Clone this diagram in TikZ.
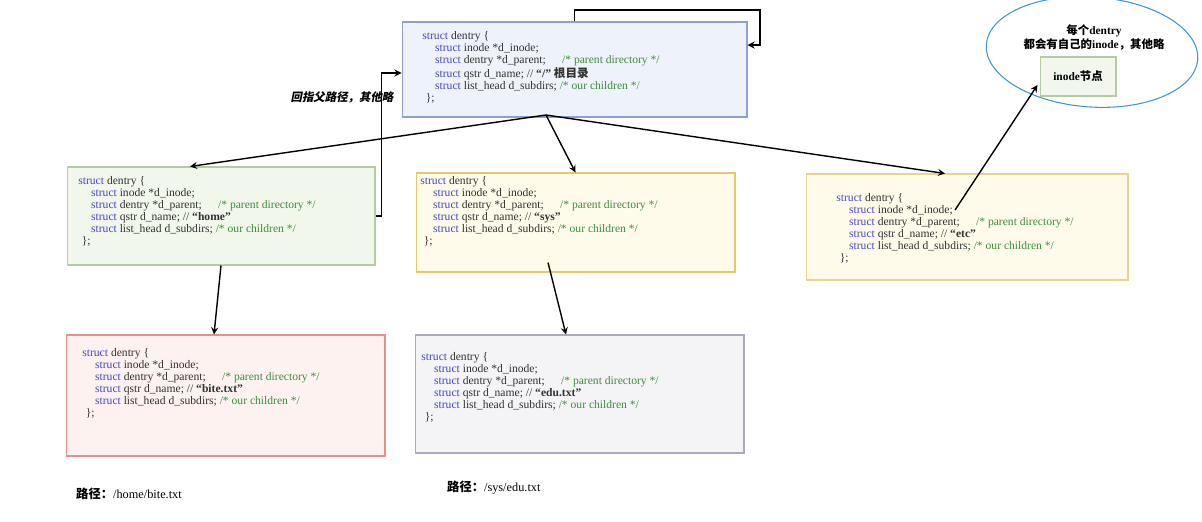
\documentclass[tikz,border=0pt]{standalone}
\usepackage{fontspec}
\usepackage{xcolor}
\usetikzlibrary{shapes,arrows,positioning,calc}
\setmainfont{Liberation Serif}
\newfontfamily\cjk{Noto Sans CJK SC}
\newfontfamily\cjkslant{Noto Sans CJK SC}[FakeSlant=0.2]
\definecolor{kwblue}{RGB}{70,70,200}
\definecolor{cmtgreen}{RGB}{60,140,60}
\definecolor{codegray}{RGB}{50,50,50}
\definecolor{blue1}{RGB}{238,243,251}
\definecolor{blue1line}{RGB}{140,160,210}
\definecolor{green1}{RGB}{242,247,236}
\definecolor{green1line}{RGB}{180,205,160}
\definecolor{yellow1}{RGB}{255,251,235}
\definecolor{yellow1line}{RGB}{232,198,106}
\definecolor{yellow2line}{RGB}{228,214,140}
\definecolor{red1}{RGB}{253,242,240}
\definecolor{red1line}{RGB}{227,146,138}
\definecolor{gray1}{RGB}{244,244,247}
\definecolor{gray1line}{RGB}{170,170,190}
\definecolor{inkblue}{RGB}{60,150,210}
\newcommand{\kw}{\textcolor{kwblue}{struct}}
\newcommand{\cmt}[1]{\textcolor{cmtgreen}{#1}}
\newcommand{\dentrycode}[1]{%
\kw{} dentry \{\\
\hspace*{1.1em}\kw{} inode *d\_inode;\\
\hspace*{1.1em}\kw{} dentry *d\_parent;\hspace{1.4em}\cmt{/* parent directory */}\\
\hspace*{1.1em}\kw{} qstr d\_name; // #1\\
\hspace*{1.1em}\kw{} list\_head d\_subdirs; \cmt{/* our children */}\\
\hspace*{0.3em}\};}

\begin{document}
\begin{tikzpicture}[x=0.02cm, y=-0.02cm, >=stealth,
    dbox/.style={draw, line width=0.6pt},
    code/.style={anchor=north west, inner sep=0pt, align=left, text=codegray,
        font=\fontsize{6.6}{6.8}\selectfont},
    note/.style={font=\fontsize{6.5}{8}\selectfont\bfseries, align=center}]
    \fill[white] (0,0) rectangle (1202,521);
    \useasboundingbox (0,0) rectangle (1202,521);

    % dentry boxes
    \node[dbox, draw=blue1line, fill=blue1, minimum width=6.9cm, minimum height=1.9cm] (root) at (574.5,69.5) {};
    \node[dbox, draw=green1line, fill=green1, minimum width=6.16cm, minimum height=1.96cm] (home) at (221,216) {};
    \node[dbox, draw=yellow1line, fill=yellow1, minimum width=6.38cm, minimum height=1.98cm] (sys) at (575.5,222.5) {};
    \node[dbox, draw=yellow2line, fill=yellow1, minimum width=6.44cm, minimum height=2.12cm] (etc) at (967,227) {};
    \node[dbox, draw=red1line, fill=red1, minimum width=6.38cm, minimum height=2.42cm] (bite) at (225.5,395.5) {};
    \node[dbox, draw=gray1line, fill=gray1, minimum width=6.58cm, minimum height=2.36cm] (edu) at (579.5,394) {};

    \node[code] (rootcode) at (422,31) {\dentrycode{\textbf{“/”} {\cjk\bfseries 根目录}}};
    \node[code] (homecode) at (78,176) {\dentrycode{\textbf{“home”}}};
    \node[code] (syscode) at (420,176) {\dentrycode{\textbf{“sys”}}};
    \node[code] (etccode) at (836,193) {\dentrycode{\textbf{“etc”}}};
    \node[code] (bitecode) at (82,348) {\dentrycode{\textbf{“bite.txt”}}};
    \node[code] (educode) at (421,352) {\dentrycode{\textbf{“edu.txt”}}};

    % inode note
    \draw[inkblue, line width=0.6pt, rotate around={-4:(1092,52)}] (1092,52) ellipse [x radius=2.12cm, y radius=1.1cm];
    \node[note] (inodenote) at (1094,37) {{\cjk 每个}dentry\\{\cjk 都会有自己的}inode{\cjk ，其他略}};
    \node[dbox, draw=green1line, fill=green1, minimum width=1.52cm, minimum height=0.78cm,
        font=\fontsize{6.5}{8}\selectfont\bfseries] (inode) at (1078,76.5) {inode{\cjk 节点}};

    % labels
    \node[font=\fontsize{6.5}{8}\selectfont\cjkslant\bfseries] (backlabel) at (342,97) {回指父路径，其他略};
    \node[font=\fontsize{7}{8}\selectfont, anchor=west] (bitepath) at (70,494) {{\cjk\bfseries 路径：}/home/bite.txt};
    \node[font=\fontsize{7}{8}\selectfont, anchor=west] (edupath) at (441,488) {{\cjk\bfseries 路径：}/sys/edu.txt};

    % connectors
    \coordinate (fork) at (546,115);
    \coordinate (loop) at (760,10);
    \draw[->, thick] (root.north) |- (loop) |- ([yshift=0.49cm]root.east);
    \draw[->, thick] (home.east) -- ++(6,0) |- ([yshift=-0.07cm]root.west);
    \draw[->, thick] (fork) -- ([xshift=-0.62cm]home.north);
    \draw[->, thick] (fork) -- (sys.north);
    \draw[->, thick] (fork) -- ([xshift=-0.44cm]etc.north);
    \draw[->, thick] (home.south) -- ([xshift=-0.23cm]bite.north);
    \draw[->, thick] ([xshift=-0.55cm, yshift=0.2cm]sys.south) -- ([xshift=-0.27cm]edu.north);
    \draw[->, thick] ([xshift=-0.24cm, yshift=0.34cm]etc.center) -- ([xshift=-0.04cm, yshift=-0.17cm]inode.west);
\end{tikzpicture}
\end{document}
